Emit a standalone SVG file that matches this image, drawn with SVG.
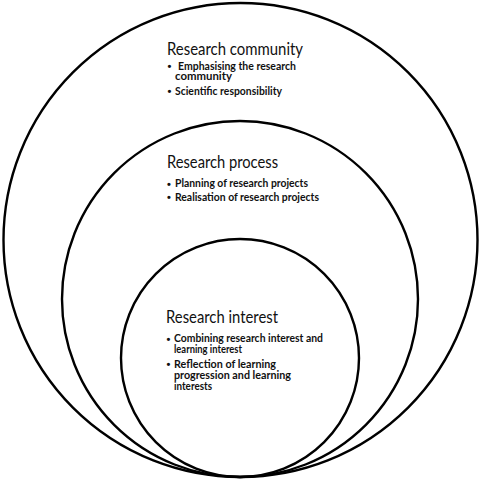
<svg xmlns="http://www.w3.org/2000/svg" width="480" height="480" viewBox="0 0 480 480">
<style>
  .ring { fill: none; stroke: #000; stroke-width: 2.4; }
  .title { font-family: Lato, "Open Sans", "Liberation Sans", sans-serif; font-size: 18px; fill: #111; }
  .item { font-family: Lato, "Open Sans", "Liberation Sans", sans-serif; font-size: 10.5px; font-weight: bold; fill: #111; }
  .dot { font-family: "Liberation Sans", sans-serif; font-size: 11px; font-weight: bold; fill: #111; }
</style>
<rect width="480" height="480" fill="#fff"/>
<g id="community">
  <circle class="ring" cx="240.5" cy="240" r="237"/>
  <text class="title" x="167" y="54.5" textLength="136" lengthAdjust="spacingAndGlyphs">Research community</text>
  <text class="dot" x="167.5" y="70">•</text>
  <text class="item" x="178" y="69.5" textLength="118" lengthAdjust="spacingAndGlyphs">Emphasising the research</text>
  <text class="item" x="175" y="80" textLength="57" lengthAdjust="spacingAndGlyphs">community</text>
  <text class="dot" x="167.5" y="95">•</text>
  <text class="item" x="175" y="94.5" textLength="107" lengthAdjust="spacingAndGlyphs">Scientific responsibility</text>
</g>
<g id="process">
  <circle class="ring" cx="240" cy="299" r="178"/>
  <text class="title" x="167" y="168" textLength="111" lengthAdjust="spacingAndGlyphs">Research process</text>
  <text class="dot" x="167" y="187.5">•</text>
  <text class="item" x="175" y="187" textLength="133" lengthAdjust="spacingAndGlyphs">Planning of research projects</text>
  <text class="dot" x="167" y="201">•</text>
  <text class="item" x="175" y="200.5" textLength="144" lengthAdjust="spacingAndGlyphs">Realisation of research projects</text>
</g>
<g id="interest">
  <circle class="ring" cx="240" cy="358" r="119"/>
  <text class="title" x="166" y="323" textLength="112" lengthAdjust="spacingAndGlyphs">Research interest</text>
  <text class="dot" x="166.5" y="342.5">•</text>
  <text class="item" x="174" y="342" textLength="149" lengthAdjust="spacingAndGlyphs">Combining research interest and</text>
  <text class="item" x="174" y="353" textLength="68" lengthAdjust="spacingAndGlyphs">learning interest</text>
  <text class="dot" x="166.5" y="368">•</text>
  <text class="item" x="174" y="367.5" textLength="102" lengthAdjust="spacingAndGlyphs">Reflection of learning</text>
  <text class="item" x="174" y="379" textLength="117" lengthAdjust="spacingAndGlyphs">progression and learning</text>
  <text class="item" x="174" y="390" textLength="38" lengthAdjust="spacingAndGlyphs">interests</text>
</g>
</svg>
